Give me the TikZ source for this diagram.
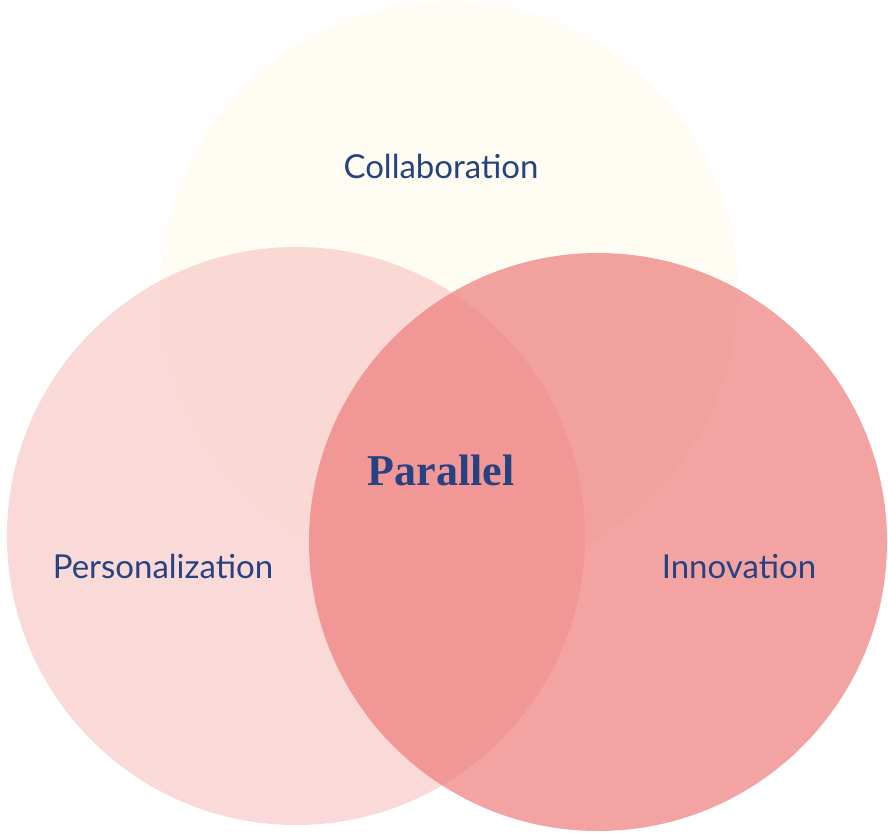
\documentclass[tikz,border=0pt]{standalone}
\usepackage{fontspec}
\setmainfont{Lato}
\newfontfamily\parfont{Liberation Serif}
\definecolor{topc}{RGB}{255,253,243}
\definecolor{leftc}{RGB}{247,192,192}
\definecolor{rightc}{RGB}{238,125,124}
\definecolor{txt}{RGB}{38,66,128}
\begin{document}
\begin{tikzpicture}[x=1pt,y=-1pt,
  lbl/.style={text=txt,font=\fontsize{33}{36}\selectfont,inner sep=0pt}]
\useasboundingbox (0,0) rectangle (888,832);
\node[circle,fill=topc,minimum size=578pt,inner sep=0pt] (top) at (449,290) {};
\node[circle,fill=leftc,fill opacity=0.6,minimum size=578pt,inner sep=0pt] (left) at (296,536) {};
\node[circle,fill=rightc,fill opacity=0.71,minimum size=578pt,inner sep=0pt] (right) at (598,542) {};
\node[lbl] (collab) at (441,166) {Collaboration};
\node[lbl] (pers) at (163,566) {Personalization};
\node[lbl] (innov) at (739,567) {Innovation};
\node[text=txt,font=\parfont\bfseries\fontsize{44}{48}\selectfont,inner sep=0pt] (par) at (441,470) {Parallel};
\end{tikzpicture}
\end{document}
